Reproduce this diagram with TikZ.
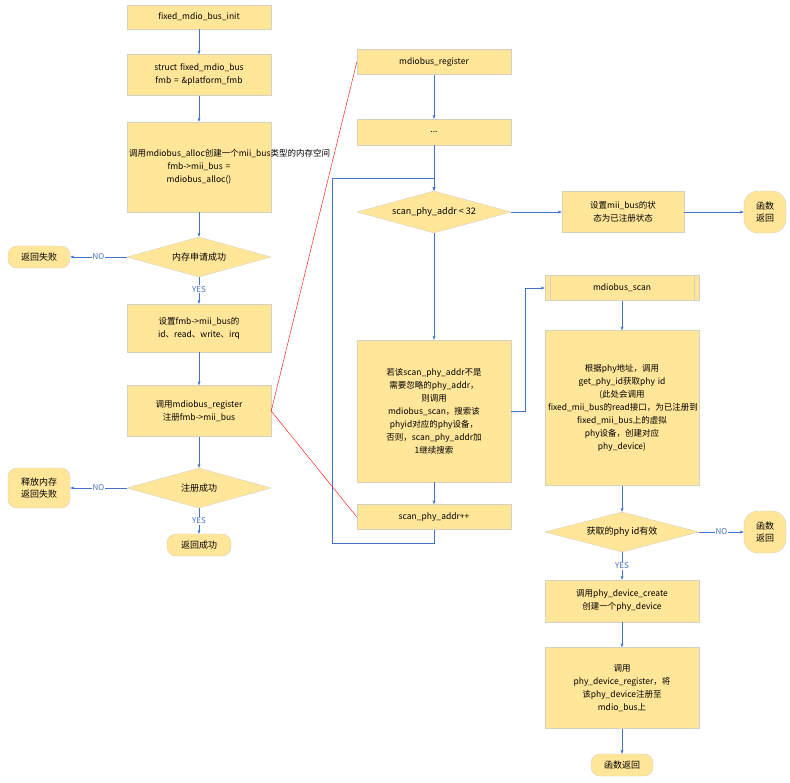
\documentclass[tikz,border=0pt]{standalone}
\usepackage{fontspec}
\setmainfont{Noto Sans CJK SC}
\usetikzlibrary{shapes.geometric,arrows.meta}
\definecolor{boxf}{HTML}{FFE699}
\definecolor{boxd}{HTML}{D6D0C0}
\definecolor{arr}{HTML}{4472C4}
\tikzset{
 box/.style={draw=boxd,fill=boxf,minimum width=154pt,text width=148pt,align=center,inner sep=1pt,font=\fontsize{8.5}{13}\selectfont},
 dia/.style={draw=boxd,fill=boxf,diamond,aspect=3.6,inner sep=0pt,font=\fontsize{9}{11}\selectfont},
 term/.style={draw=boxd,fill=boxf,rounded corners=9pt,align=center,inner sep=2pt,font=\fontsize{9}{12}\selectfont},
 ar/.style={draw=arr,-{Stealth[length=4pt,width=3pt]}},
 lab/.style={text=arr,font=\fontsize{8}{10}\selectfont,fill=white,inner sep=1pt},
 red/.style={draw=red}
}
\begin{document}
\begin{tikzpicture}[x=1pt,y=-1pt]
\useasboundingbox (0,0) rectangle (790,782);
% left column
\node[box,minimum width=144pt,text width=140pt,minimum height=24pt] (a1) at (199,17) {fixed\_mdio\_bus\_init};
\node[box,minimum width=144pt,text width=140pt,minimum height=41pt] (a2) at (199,75) {struct fixed\_mdio\_bus\\*fmb = \&platform\_fmb};
\node[box,minimum width=144pt,text width=140pt,minimum height=90pt] (a3) at (199,167) {调用mdiobus\_alloc创建一个mii\_bus类型的内存空间\\fmb->mii\_bus =\\mdiobus\_alloc()};
\node[dia,minimum width=144pt,minimum height=40pt] (d1) at (199,257) {内存申请成功};
\node[term,minimum width=62pt,minimum height=22pt] (f1) at (39,257) {返回失败};
\node[box,minimum width=144pt,text width=140pt,minimum height=48pt] (a4) at (199,328) {设置fmb->mii\_bus的\\id、read、write、irq};
\node[box,minimum width=144pt,text width=140pt,minimum height=51pt] (a5) at (199,411) {调用mdiobus\_register\\注册fmb->mii\_bus};
\node[dia,minimum width=144pt,minimum height=40pt] (d2) at (199,488) {注册成功};
\node[term,minimum width=62pt,minimum height=40pt] (f2) at (39,488) {释放内存\\返回失败};
\node[term,minimum width=64pt,minimum height=22pt] (s2) at (199,545) {返回成功};
\draw[ar] (a1) -- (a2);
\draw[ar] (a2) -- (a3);
\draw[ar] (a3) -- (d1);
\draw[ar] (d1) -- node[lab]{NO} (f1);
\draw[ar] (d1) -- node[lab,pos=0.45]{YES} (a4);
\draw[ar] (a4) -- (a5);
\draw[ar] (a5) -- (d2);
\draw[ar] (d2) -- node[lab]{NO} (f2);
\draw[ar] (d2) -- node[lab,pos=0.5]{YES} (s2);
% middle column
\node[box,minimum height=25pt] (b1) at (434,62) {mdiobus\_register};
\node[box,minimum height=26pt] (b2) at (434,132) {...};
\node[dia,minimum width=154pt,minimum height=42pt] (d3) at (434,212) {scan\_phy\_addr < 32};
\node[box,minimum width=122pt,text width=116pt,minimum height=41pt] (b5) at (623,212) {设置mii\_bus的状\\态为已注册状态};
\node[term,minimum width=42pt,minimum height=42pt,rounded corners=14pt] (r1) at (765,212) {函数\\返回};
\node[box,minimum height=142pt] (b3) at (434,411) {若该scan\_phy\_addr不是\\需要忽略的phy\_addr，\\则调用\\mdiobus\_scan，搜索该\\phyid对应的phy设备，\\否则，scan\_phy\_addr加\\1继续搜索};
\node[box,minimum height=25pt] (b4) at (434,517) {scan\_phy\_addr++};
\draw[ar] (b1) -- (b2);
\draw[ar] (b2) -- (d3);
\draw[ar] (d3) -- (b5);
\draw[ar] (b5) -- (r1);
\draw[ar] (d3) -- (b3);
\draw[ar] (b3) -- (b4);
\coordinate (l1) at (434,543);
\coordinate (l2) at (332,543);
\coordinate (l3) at (332,178);
\coordinate (l4) at (434,178);
\draw[ar] (b4.south) -- (l1) -- (l2) -- (l3) -- (l4) -- (d3.north);
% right column
\node[box,minimum height=25pt] (c1) at (622,288) {mdiobus\_scan};
\draw[boxd] ([xshift=5pt]c1.north west) -- ([xshift=5pt]c1.south west);
\draw[boxd] ([xshift=-5pt]c1.north east) -- ([xshift=-5pt]c1.south east);
\coordinate (m1) at (525,411);
\coordinate (m2) at (525,288);
\draw[ar] (b3.east) -- (m1) -- (m2) -- (c1.west);
\node[box,minimum height=155pt] (c2) at (622,408) {根据phy地址，调用\\get\_phy\_id获取phy id\\(此处会调用\\fixed\_mii\_bus的read接口，为已注册到\\fixed\_mii\_bus上的虚拟\\phy设备，创建对应\\phy\_device)};
\node[dia,minimum width=154pt,minimum height=40pt] (d4) at (622,532) {获取的phy id有效};
\node[term,minimum width=42pt,minimum height=42pt,rounded corners=14pt] (r2) at (765,532) {函数\\返回};
\node[box,minimum height=42pt] (c3) at (622,601) {调用phy\_device\_create\\创建一个phy\_device};
\node[box,minimum height=81pt] (c4) at (622,688) {调用\\phy\_device\_register，将\\该phy\_device注册至\\mdio\_bus上};
\node[term,minimum width=62pt,minimum height=22pt] (r3) at (622,765) {函数返回};
\draw[ar] (c1) -- (c2);
\draw[ar] (c2) -- (d4);
\draw[ar] (d4) -- node[lab]{NO} (r2);
\draw[ar] (d4) -- node[lab]{YES} (c3);
\draw[ar] (c3) -- (c4);
\draw[ar] (c4) -- (r3);
% red lines
\draw[red] (a5.east) -- (b1.west);
\draw[red] (a5.east) -- (b4.west);
\end{tikzpicture}
\end{document}
